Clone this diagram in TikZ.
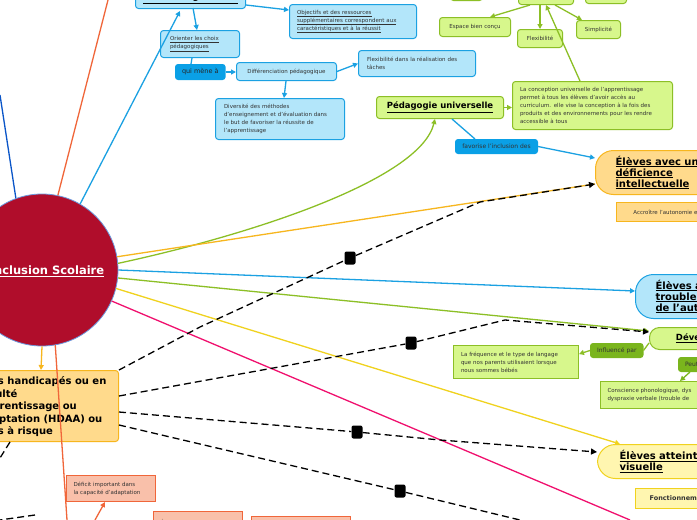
\documentclass[tikz,border=0pt]{standalone}
\usepackage{fontspec}
\setmainfont{DejaVu Sans}
\usetikzlibrary{arrows.meta}
\definecolor{bfill}{HTML}{B3E6FA}\definecolor{bdraw}{HTML}{1BA1E2}\definecolor{blab}{HTML}{0AA0E6}
\definecolor{gfill}{HTML}{D7F78C}\definecolor{gdraw}{HTML}{8CBF26}\definecolor{glab}{HTML}{7AB51D}
\definecolor{ofill}{HTML}{FFDA8C}\definecolor{odraw}{HTML}{F7B61E}
\definecolor{yfill}{HTML}{FFF6B0}\definecolor{ydraw}{HTML}{F0D21E}
\definecolor{sfill}{HTML}{F9C0AA}\definecolor{sdraw}{HTML}{F0663A}
\definecolor{crim}{HTML}{B00D2B}\definecolor{pink}{HTML}{F0106E}\definecolor{dblue}{HTML}{0A55C8}
\tikzset{
 box/.style={draw, rounded corners=3pt, line width=1pt, anchor=north west, align=left, inner xsep=7pt, inner ysep=2pt, font=\fontsize{5.5}{8}\selectfont, text=black!80},
 bb/.style={box, fill=bfill, draw=bdraw},
 gb/.style={box, fill=gfill, draw=gdraw},
 ob/.style={box, fill=ofill, draw=odraw},
 yb/.style={box, fill=yfill, draw=ydraw},
 sb/.style={box, fill=sfill, draw=sdraw, rounded corners=0pt},
 lab/.style={box, line width=0pt, draw=none},
 big/.style={font=\bfseries\fontsize{10}{11}\selectfont, text=black},
 arr/.style={-{Triangle[length=5pt,width=5pt]}, line width=1.3pt},
 ln/.style={line width=1.3pt},
 dsh/.style={dashed, dash pattern=on 7pt off 4pt, line width=1.3pt, black},
 blk/.style={fill=black, rounded corners=2pt, minimum width=11pt, minimum height=13pt, inner sep=0pt},
}
\begin{document}
\begin{tikzpicture}[x=1pt,y=-1pt]
\useasboundingbox (0,0) rectangle (697,520);
\clip (0,0) rectangle (697,520);
\fill[white] (0,0) rectangle (697,520);
% nodes
\node[circle, fill=crim, draw=dblue!60, line width=0.8pt, minimum size=152pt, inner sep=0pt] (c) at (42,270) {};
\node[text=white, font=\bfseries\fontsize{11.5}{12}\selectfont] at (47,271) {\underline{Inclusion Scolaire}};
\node[bb, minimum width=110pt, minimum height=28pt, font=\bfseries\fontsize{9}{10}\selectfont, text=black] (top) at (135,-20) {\\[4pt] \underline{de l'enseignement}};
\node[bb, minimum width=79pt, minimum height=27pt, text width=60pt] (ori) at (160,30) {\underline{Orienter les choix}\\\underline{pédagogiques}};
\node[bb, minimum width=127pt, minimum height=34pt, text width=112pt] (obj) at (289,4) {\underline{Objectifs et des ressources}\\\underline{supplémentaires correspondent aux}\\\underline{caractéristiques et à la réussit}};
\node[lab, fill=blab, minimum width=49pt, minimum height=16pt, font=\fontsize{6.5}{8}\selectfont, text=black!85] (qui) at (175,64) {qui mène à};
\node[bb, minimum width=100pt, minimum height=18pt, align=center] (dif) at (236,62) {Différenciation pédagogique};
\node[bb, minimum width=117pt, minimum height=26pt, text width=100pt] (flx) at (358,50) {Flexibilité dans la réalisation des\\tâches};
\node[bb, minimum width=129pt, minimum height=41pt, text width=112pt] (div) at (215,98) {Diversité des méthodes\\d'enseignement et d'évaluation dans\\le but de favoriser la réussite de\\l'apprentissage};
\node[gb, minimum width=127pt, minimum height=22pt, big, font=\bfseries\fontsize{8.5}{10}\selectfont] (ped) at (376,96) {\underline{Pédagogie universelle}};
\node[gb, minimum width=160pt, minimum height=48pt, text width=145pt] (cu) at (512,81) {La conception universelle de l'apprentissage\\permet à tous les élèves d'avoir accès au\\curriculum. elle vise la conception à la fois des\\produits et des environnements pour les rendre\\accessible à tous};
\node[gb, minimum width=55pt, minimum height=12pt] (gp) at (518,-8) {};
\node[gb, minimum width=41pt, minimum height=11pt] (g2) at (585,-8) {};
\node[gb, minimum width=32pt, minimum height=8pt] (g3) at (450,-8) {};
\node[gb, minimum width=71pt, minimum height=19pt] (esp) at (439,17) {Espace bien conçu};
\node[gb, minimum width=45pt, minimum height=18pt] (fx2) at (517,29) {Flexibilité};
\node[gb, minimum width=44pt, minimum height=18pt] (sim) at (576,20) {Simplicité};
\node[lab, fill=blab, minimum width=83pt, minimum height=15pt, font=\fontsize{6}{8}\selectfont] (fav) at (455,139) {favorise l'inclusion des};
\node[ob, rounded corners=18pt, minimum width=130pt, minimum height=44pt, big, text width=100pt, inner xsep=20pt] (int) at (595,150) {\underline{Élèves avec une}\\\underline{déficience}\\\underline{intellectuelle}};
\node[ob, rounded corners=0pt, minimum width=100pt, minimum height=19pt] (acc) at (616,202) {Accroître l'autonomie et};
\node[bb, rounded corners=18pt, minimum width=100pt, minimum height=44pt, big, text width=80pt, inner xsep=20pt] (aut) at (635,274) {\underline{Élèves a}\\\underline{trouble}\\\underline{de l'aut}};
\node[gb, rounded corners=10pt, minimum width=80pt, minimum height=22pt, big, font=\bfseries\fontsize{8.5}{10}\selectfont, inner xsep=16pt] (dev) at (649,327) {\underline{Dével}};
\node[lab, fill=glab, minimum width=52pt, minimum height=15pt, font=\fontsize{6}{8}\selectfont] (inf) at (590,343) {Influencé par};
\node[gb, rounded corners=0pt, minimum width=125pt, minimum height=33pt, text width=110pt] (fre) at (453,345) {La fréquence et le type de langage\\que nos parents utilisaient lorsque\\nous sommes bébés};
\node[lab, fill=glab, minimum width=25pt, minimum height=15pt, font=\fontsize{6}{8}\selectfont] (peu) at (678,357) {Peut};
\node[gb, rounded corners=0pt, minimum width=110pt, minimum height=27pt, text width=100pt] (con) at (600,381) {Conscience phonologique, dys\\dyspraxie verbale (trouble de};
\node[yb, rounded corners=18pt, minimum width=120pt, minimum height=34pt, big, text width=90pt, inner xsep=22pt] (vis) at (597,444) {\underline{Élèves atteints}\\\underline{visuelle}};
\node[yb, rounded corners=0pt, minimum width=80pt, minimum height=20pt, font=\bfseries\fontsize{6.5}{8}\selectfont] (fon) at (635,488) {Fonctionneme};
\node[ob, minimum width=163pt, minimum height=71pt, font=\bfseries\fontsize{10}{12.5}\selectfont, text=black, inner xsep=3pt] (hd) at (-45,370) {Élèves handicapés ou en\\difficulté\\d'apprentissage ou\\d'adaptation (HDAA) ou\\élèves à risque};
\node[sb, minimum width=89pt, minimum height=26pt, text width=75pt] (def) at (66,475) {Déficit important dans\\la capacité d'adaptation};
\node[sb, minimum width=88pt, minimum height=20pt, text width=75pt] (eca) at (153,511) {Écart ...};
\node[sb, minimum width=99pt, minimum height=20pt] (s3) at (251,516) {};
\node[blk] (m1) at (350,258) {};
\node[blk] (m2) at (411,343) {};
\node[blk] (m3) at (357,432) {};
\node[blk] (m4) at (400,491) {};
\coordinate (e1) at (0,95); \coordinate (e2) at (108,0);
\coordinate (e3) at (67,520); \coordinate (e4) at (630,520); \coordinate (e5) at (520,520);
% connectors
\draw[dblue, ln] (c.110) -- (e1);
\draw[sdraw, ln] (c.78) -- (e2);
\draw[arr, bdraw] (c.60) -- (180,11);
\draw[arr, bdraw] (193,8) -- (ori.north -| 197,0);
\draw[arr, bdraw] (top.east |- 0,5) -- (obj.west |- 0,10);
\draw[bdraw, ln] (ori.south -| 192,0) -- (qui.north -| 191,0);
\draw[arr, bdraw] (qui.east) -- (dif.west |- qui.east);
\draw[arr, bdraw] (dif.east) -- (flx.west);
\draw[arr, bdraw] (dif.south -| 286,0) -- (div.north -| 284,0);
\draw[arr, gdraw] (c.5) .. controls (250,235) and (420,180) .. (435,119);
\draw[arr, gdraw] (ped.east) -- (cu.west |- ped.east);
\draw[arr, gdraw] (cu.north -| 580,0) -- (gp.south -| 546,0);
\draw[arr, gdraw] (gp.south -| 530,0) -- (esp.north -| 490,0);
\draw[arr, gdraw] (gp.south -| 540,0) -- (fx2.north -| 540,0);
\draw[arr, gdraw] (gp.south -| 555,0) -- (sim.north -| 582,0);
\draw[bdraw, ln] (ped.south -| 452,0) -- (fav.north -| 475,0);
\draw[arr, bdraw] (fav.east) -- (int.west |- 0,158);
\draw[odraw, ln] (c.10) -- (int.west |- 0,184);
\draw[arr, bdraw] (c.0) -- (aut.west |- 0,291);
\draw[arr, gdraw] (c.-6) -- (dev.west |- 0,331);
\draw[arr, ydraw] (c.-14) -- (vis.north -| 620,0);
\draw[pink, ln] (c.-24) -- (e4);
\draw[arr, odraw] (c.-90) -- (hd.north -| 41,0);
\draw[sdraw, ln] (c.-80) -- (e3);
\draw[gdraw, ln] (dev.west |- 0,343) -- (inf.east);
\draw[arr, gdraw] (inf.west) -- (fre.east |- 0,354);
\draw[arr, glab] (peu.south -| 690,0) -- (con.north -| 680,0);
\draw[arr, sdraw] (95,520) -- (def.south -| 105,0);
\draw[dsh] (hd.north east) -- (200,327) -- (m1);
\draw[dsh, -{Triangle[length=6pt,width=6pt]}] (m1) -- (480,202) -- (int.west |- 0,184);
\draw[dsh] (hd.east |- 0,396) -- (m2);
\draw[dsh, -{Triangle[length=6pt,width=6pt]}] (m2) -- (505,320) -- (dev.west |- 0,332);
\draw[dsh] (hd.east |- 0,412) -- (m3);
\draw[dsh, -{Triangle[length=6pt,width=6pt]}] (m3) -- (440,440) -- (vis.west |- 0,452);
\draw[dsh] (hd.east |- 0,425) -- (m4);
\draw[dsh] (m4) -- (e5);
\draw[dsh] (hd.south -| 10,0) -- (0,458);
\draw[dsh] (35,515) -- (0,520);
\end{tikzpicture}
\end{document}
